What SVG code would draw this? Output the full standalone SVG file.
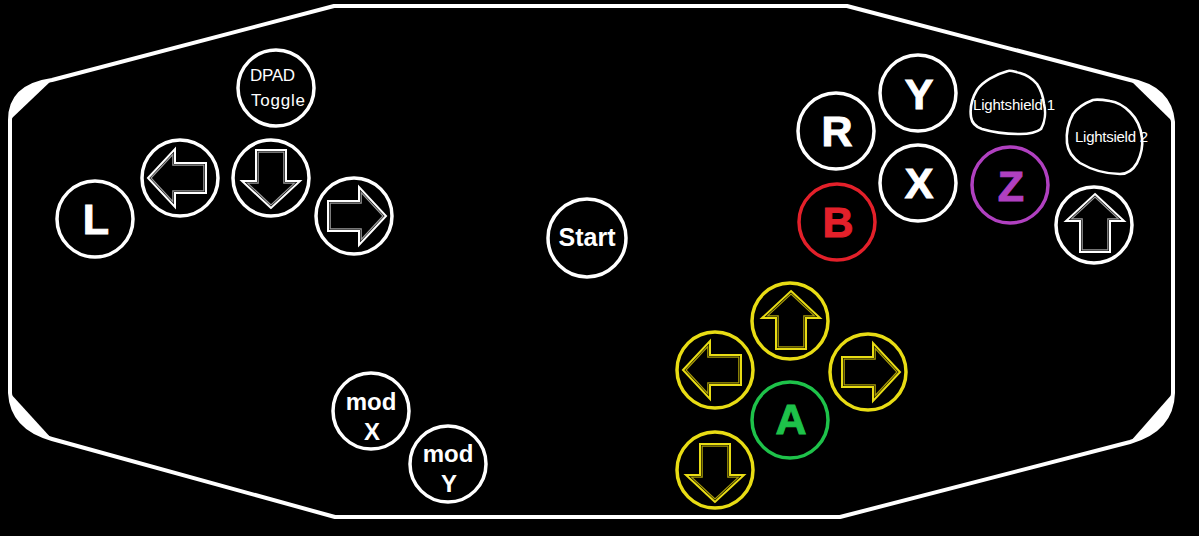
<svg xmlns="http://www.w3.org/2000/svg" xmlns:xlink="http://www.w3.org/1999/xlink" width="1199" height="536" viewBox="0 0 1199 536">
<style>
.ring{fill:none;stroke:#fff;stroke-width:3.5}
.yring{fill:none;stroke:#e8dc14;stroke-width:3.5}
.arw{fill:none;stroke:#fff;stroke-width:2;stroke-linejoin:miter}
.arwi{fill:none;stroke:#9a9a9a;stroke-width:1.2;stroke-linejoin:miter}
.yarw{fill:none;stroke:#e8dc14;stroke-width:2;stroke-linejoin:miter}
.yarwi{fill:none;stroke:#a89c08;stroke-width:1.2;stroke-linejoin:miter}
.big{font-family:"Liberation Sans",Arial,sans-serif;font-weight:bold;font-size:43px;text-anchor:middle;fill:#fff;stroke:#fff;stroke-width:1}
.mid{font-family:"Liberation Sans",Arial,sans-serif;font-weight:bold;font-size:24px;text-anchor:middle;fill:#fff}
.sm{font-family:"Liberation Sans",Arial,sans-serif;font-size:17px;fill:#fff}
.ls{font-family:"Liberation Sans",Arial,sans-serif;font-size:15px;fill:#fff}
.blob{fill:none;stroke:#fff;stroke-width:2.6;stroke-linejoin:round}
</style>
<defs>
<path id="arrow" d="M0,-30 L29,-3 L15,-3 L15,28 L-15,28 L-15,-3 L-29,-3 Z"/>
<path id="arrowin" d="M0,-27 L23.4,-5.2 L12.8,-5.2 L12.8,25.8 L-12.8,25.8 L-12.8,-5.2 L-23.4,-5.2 Z"/>
</defs>
<rect x="0" y="0" width="1199" height="536" fill="#000"/>
<g id="outline">
<path d="M334,6 L847,6 L1130,80 Q1170,88 1173,122 L1173,393 Q1172,430 1130,442 L840,517 L335,517 L52,439 Q12,428 10,393 L10,120 Q10,86 52,80 Z" fill="none" stroke="#fff" stroke-width="4" stroke-linejoin="round"/>
<path d="M10,120 Q10,86 52,80 Z" fill="#fff"/>
<path d="M1130,80 Q1170,88 1173,122 Z" fill="#fff"/>
<path d="M1173,393 Q1172,430 1130,442 Z" fill="#fff"/>
<path d="M52,439 Q12,428 10,393 Z" fill="#fff"/>
</g>
<g id="connectors"/>
<g id="btn-L"><circle class="ring" cx="95" cy="219" r="38"/><text class="big" x="96" y="234">L</text></g>
<g id="btn-dpad-toggle"><circle class="ring" cx="276" cy="88" r="38"/><text class="sm" x="250" y="81" textLength="45">DPAD</text><text class="sm" x="251" y="106" textLength="54">Toggle</text></g>
<g id="btn-left"><circle class="ring" cx="180" cy="178" r="38"/><g transform="translate(178,178) rotate(-90)"><use href="#arrow" class="arw"/><use href="#arrowin" class="arwi"/></g></g>
<g id="btn-down"><circle class="ring" cx="271" cy="178" r="38"/><g transform="translate(271,178) rotate(180)"><use href="#arrow" class="arw"/><use href="#arrowin" class="arwi"/></g></g>
<g id="btn-right"><circle class="ring" cx="354" cy="216" r="38"/><g transform="translate(356,216) rotate(90)"><use href="#arrow" class="arw"/><use href="#arrowin" class="arwi"/></g></g>
<g id="btn-start"><circle class="ring" cx="587" cy="238" r="39"/><text class="mid" x="587" y="246" style="font-size:25px">Start</text></g>
<g id="btn-modx"><circle class="ring" cx="371" cy="411" r="38"/><text class="mid" x="371" y="410">mod</text><text class="mid" x="372" y="440">X</text></g>
<g id="btn-mody"><circle class="ring" cx="448" cy="464" r="38"/><text class="mid" x="448" y="462">mod</text><text class="mid" x="449" y="492">Y</text></g>
<g id="btn-R"><circle class="ring" cx="836" cy="131" r="38"/><text class="big" x="837" y="146">R</text></g>
<g id="btn-Y"><circle class="ring" cx="918" cy="93" r="38"/><text class="big" x="919" y="109">Y</text></g>
<g id="btn-X"><circle class="ring" cx="918" cy="183" r="38"/><text class="big" x="919" y="198">X</text></g>
<g id="btn-B"><circle cx="837" cy="222" r="38" fill="none" stroke="#e3202a" stroke-width="3.5"/><text class="big" x="838" y="237" style="fill:#e3202a;stroke:#e3202a">B</text></g>
<g id="btn-Z"><circle cx="1010" cy="185" r="38" fill="none" stroke="#b040c0" stroke-width="3.5"/><text class="big" x="1011" y="201" style="fill:#b040c0;stroke:#b040c0">Z</text></g>
<g id="btn-lightshield1"><path class="blob" d="M1008,71 C996,74 982,82 977,90 C971,100 970,110 971,117 C972,124 976,127 982,129 C995,133 1008,134 1020,134 C1030,134 1037,132 1041,129 C1045,122 1046,112 1044,104 C1043,96 1041,90 1037,84 C1032,78 1027,75 1020,73 C1015,72 1011,70 1008,71 Z"/><text class="ls" x="973" y="110" textLength="82">Lightshield 1</text></g>
<g id="btn-lightshield2"><path class="blob" d="M1093,100 C1085,103 1078,107 1073,114 C1068,123 1066,133 1067,143 C1068,152 1073,158 1080,163 C1092,170 1106,174 1120,174 C1128,174 1133,170 1137,163 C1141,155 1143,146 1142,138 C1141,128 1137,119 1130,112 C1124,106 1117,102 1110,101 C1104,100 1098,99 1093,100 Z"/><text class="ls" x="1075" y="142" textLength="73">Lightsield 2</text></g>
<g id="btn-up"><circle class="ring" cx="1094" cy="225" r="38"/><g transform="translate(1095,224)"><use href="#arrow" class="arw"/><use href="#arrowin" class="arwi"/></g></g>
<g id="btn-c-up"><circle class="yring" cx="790" cy="321" r="38"/><g transform="translate(791,321)"><use href="#arrow" class="yarw"/><use href="#arrowin" class="yarwi"/></g></g>
<g id="btn-c-left"><circle class="yring" cx="715" cy="370" r="38"/><g transform="translate(713,370) rotate(-90)"><use href="#arrow" class="yarw"/><use href="#arrowin" class="yarwi"/></g></g>
<g id="btn-c-right"><circle class="yring" cx="868" cy="372" r="38"/><g transform="translate(870,372) rotate(90)"><use href="#arrow" class="yarw"/><use href="#arrowin" class="yarwi"/></g></g>
<g id="btn-c-down"><circle class="yring" cx="715" cy="470" r="38"/><g transform="translate(715,472) rotate(180)"><use href="#arrow" class="yarw"/><use href="#arrowin" class="yarwi"/></g></g>
<g id="btn-A"><circle cx="790" cy="420" r="38" fill="none" stroke="#1ec24a" stroke-width="3.5"/><text class="big" x="791" y="434" style="fill:#1ec24a;stroke:#1ec24a">A</text></g>
</svg>
